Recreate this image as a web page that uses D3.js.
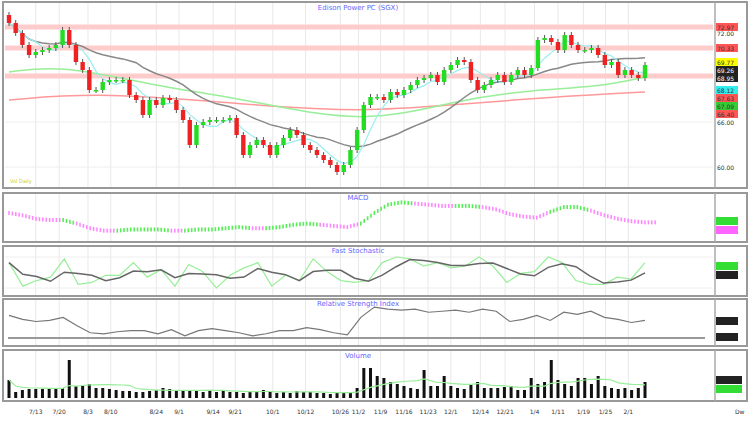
<!DOCTYPE html>
<html><head><meta charset="utf-8">
<script src="https://cdn.jsdelivr.net/npm/d3@7"></script>
<style>body{margin:0;background:#fff}svg{font-family:"DejaVu Sans",sans-serif}</style>
</head><body>
<script>
// daily closes
var closes=[74.4,73.4,72.2,71.2,71.5,71.7,71.9,72.2,73.7,72.2,70.5,69.7,67.7,67.7,68.5,68.7,68.7,68.7,67.2,66.7,
65.2,66.7,66.2,66.9,66.7,65.7,64.7,62.2,64.2,64.5,64.7,64.7,64.7,64.9,63.2,61.2,62.2,62.7,62.2,61.2,
62.2,62.9,63.7,63.2,62.2,61.7,61.2,60.7,60.2,59.5,60.2,61.7,63.7,66.2,67.0,67.0,66.7,67.5,67.2,67.7,
68.2,68.7,68.9,69.2,68.5,69.7,70.2,70.7,70.5,68.7,67.7,68.2,68.7,69.2,68.5,69.2,69.7,69.2,69.9,72.7,
72.9,72.5,71.7,73.2,72.2,71.7,71.7,71.9,71.2,70.2,70.5,69.2,69.7,69.2,68.9,70.2];
var volumes=[18,6,8,9,9,9,9,9,10,38,12,12,14,10,10,9,8,7,7,6,6,7,8,10,9,8,8,7,7,6,8,6,7,6,6,5,6,7,8,6,
5,6,5,7,6,6,5,5,4,5,5,6,10,30,30,22,20,16,14,12,10,9,28,12,12,22,12,10,9,13,16,10,10,10,11,12,8,8,20,14,
16,38,18,14,12,20,20,14,22,12,10,9,10,8,10,16];
var ma50=[[0,69.5],[8,70.2],[21,68.2],[36,66.7],[53,64.2],[67,66.7],[78,67.7],[88,68.0],[95,69.0]];
var ma200=[[0,66.7],[14,67.5],[36,66.2],[53,65.5],[66,66.2],[81,67.0],[95,67.5]];
var macd=[7,5,2,1,1,-2,-6,-8,-8,-7,-7,-7,-8,-8,-7,-7,-6,-5,-6,-6,-5,-3,-2,-3,-4,-5,-2,7,14,16,15,14,13,13,13,12,10,6,4,3,8,12,12,9,5,2,0,-1];
var stochK=[82,6,24,35,94,12,18,41,41,82,35,59,6,76,53,0,41,65,82,6,41,24,94,53,24,18,24,82,100,94,71,82,65,71,100,71,18,47,53,100,82,24,12,12,35,29,82];
var rsi=[62,58,56,57,60,52,45,44,46,47,47,44,48,42,47,49,47,45,42,44,47,47,50,48,45,43,60,70,68,67,68,65,66,67,65,68,66,56,58,62,57,65,63,66,60,58,55,57];
var dateLabels=["7/13","7/20","8/3","8/10","8/24","9/1","9/14","9/21","10/1","10/12","10/26","11/2","11/9","11/16","11/23","12/1","12/14","12/21","1/4","1/11","1/19","1/25","2/1"];
var dateIdx=[4,7.5,11.8,15.2,22,25.4,30.5,33.8,39.4,44.3,49.5,52.2,55.5,59,62.6,66,70.4,74.1,78.5,82,85.8,89.1,92.5];
var rightLabels=[[27,"72.97","#f55"],[33,"72.00",null],[48,"70.33","#f55"],[62,"69.77","#ff0"],[70,"69.26","#222"],[78,"68.95","#222"],[90,"68.12","#3ee"],[98,"67.63","#f55"],[106,"67.09","#3c3"],[114,"66.40","#f55"],[122,"66.00",null],[167,"60.00",null]];

var W=750,H=422,L=6,R=713;
var svg=d3.select("body").append("svg").attr("width",W).attr("height",H);
var N=closes.length;
var x=d3.scaleLinear().domain([0,N-1]).range([9,645]);
var panels=[[2,188],[193,242],[246,296],[299,346],[350,401]];
panels.forEach(function(p){
  svg.append("rect").attr("x",3).attr("y",p[0]).attr("width",744).attr("height",p[1]-p[0]).attr("fill","#fff").attr("stroke","#999").attr("stroke-width",2);
  dateIdx.forEach(function(d){svg.append("line").attr("x1",x(d)).attr("x2",x(d)).attr("y1",p[0]+1).attr("y2",p[1]-1).attr("stroke","#e8e8e8");});
  svg.append("line").attr("x1",715).attr("x2",715).attr("y1",p[0]).attr("y2",p[1]).attr("stroke","#aaa").attr("stroke-width",1.5);
});
function title(t,xx,yy){svg.append("text").attr("x",xx).attr("y",yy).attr("text-anchor","middle").attr("font-size",7).attr("fill","#66f").text(t);}
// main
var y=d3.scaleLinear().domain([58.2,76.7]).range([185,0]);
[27,48,76].forEach(function(v){svg.append("rect").attr("x",5).attr("width",708).attr("y",v-2.5).attr("height",5).attr("fill","#fcc");});
[122,167].forEach(function(v){svg.append("line").attr("x1",5).attr("x2",713).attr("y1",v).attr("y2",v).attr("stroke","#eee");});
title("Edison Power PC  (SGX)",358,10);
function sma(a,n){return a.map(function(v,i){var s=a.slice(Math.max(0,i-n+1),i+1);return d3.mean(s);});}
var line=d3.line().x(function(d,i){return x(i);}).y(function(d){return y(d);});
var kline=d3.line().curve(d3.curveBasis).x(function(d){return x(d[0]);}).y(function(d){return y(d[1]);});
svg.append("path").attr("d",kline(ma200)).attr("fill","none").attr("stroke","#f99").attr("stroke-width",1.5);
svg.append("path").attr("d",kline(ma50)).attr("fill","none").attr("stroke","#9e9").attr("stroke-width",1.5);
svg.append("path").attr("d",line(sma(closes,20))).attr("fill","none").attr("stroke","#888").attr("stroke-width",1.5);
svg.append("path").attr("d",line(sma(closes,5))).attr("fill","none").attr("stroke","#9ee").attr("stroke-width",1.2);
closes.forEach(function(c,i){
  var o=i?closes[i-1]:c+0.8, up=c>=o, top=y(Math.max(o,c)), bot=y(Math.min(o,c));
  svg.append("line").attr("x1",x(i)).attr("x2",x(i)).attr("y1",top-3).attr("y2",bot+3).attr("stroke","#555");
  svg.append("rect").attr("x",x(i)-2.2).attr("width",4.4).attr("y",top).attr("height",Math.max(1.5,bot-top)).attr("fill",up?"#2d2":"#e22");
});
svg.append("text").attr("x",10).attr("y",183).attr("font-size",5).attr("fill","#cc0").text("Vol  Daily");
rightLabels.forEach(function(r){
  if(r[2]){svg.append("rect").attr("x",716).attr("y",r[0]-4).attr("width",22).attr("height",8).attr("fill",r[2]);}
  svg.append("text").attr("x",717).attr("y",r[0]+2.5).attr("font-size",6).attr("fill",r[2]=="#222"?"#fff":"#333").text(r[1]);
});
// MACD
var xs=d3.scaleLinear().domain([0,macd.length-1]).range([9,645]);
var ym=d3.scaleLinear().domain([-10,18]).range([233,200]);
title("MACD",358,200);
macd.forEach(function(v,i){
  var c=(i>0&&v>=macd[i-1])?"#5e5":"#f8f";
  [0,1,2,3].forEach(function(k){var t=k/4,vv=i<macd.length-1?v+(macd[i+1]-v)*t:v;
    svg.append("rect").attr("x",xs(i)+t*(xs(1)-xs(0))-0.8).attr("y",ym(vv)-2).attr("width",1.6).attr("height",4).attr("fill",c);});
});
svg.append("rect").attr("x",716).attr("y",217).attr("width",22).attr("height",8).attr("fill","#3d3");
svg.append("rect").attr("x",716).attr("y",226).attr("width",22).attr("height",8).attr("fill","#f6f");
// Stochastic
var xk=d3.scaleLinear().domain([0,stochK.length-1]).range([9,645]);
var ys=d3.scaleLinear().domain([0,100]).range([288,257]);
title("Fast Stochastic",358,253);
[257,288].forEach(function(v){svg.append("line").attr("x1",5).attr("x2",713).attr("y1",v).attr("y2",v).attr("stroke","#eee");});
var sl=d3.line().x(function(d,i){return xk(i);}).y(function(d){return ys(d);});
svg.append("path").attr("d",sl(stochK)).attr("fill","none").attr("stroke","#9e9").attr("stroke-width",1.2);
svg.append("path").attr("d",sl(sma(stochK,3))).attr("fill","none").attr("stroke","#666").attr("stroke-width",1.5);
svg.append("rect").attr("x",716).attr("y",262).attr("width",22).attr("height",8).attr("fill","#3d3");
svg.append("rect").attr("x",716).attr("y",271).attr("width",22).attr("height",8).attr("fill","#222");
// RSI
var xr=d3.scaleLinear().domain([0,rsi.length-1]).range([9,645]);
var yr=d3.scaleLinear().domain([35,75]).range([343,302]);
title("Relative Strength Index",358,306);
svg.append("line").attr("x1",8).attr("x2",705).attr("y1",yr(40)).attr("y2",yr(40)).attr("stroke","#999").attr("stroke-width",2);
svg.append("path").attr("d",d3.line().x(function(d,i){return xr(i);}).y(function(d){return yr(d);})(rsi)).attr("fill","none").attr("stroke","#777").attr("stroke-width",1.2);
svg.append("rect").attr("x",716).attr("y",317).attr("width",22).attr("height",8).attr("fill","#222");
svg.append("rect").attr("x",716).attr("y",333).attr("width",22).attr("height",8).attr("fill","#222");
// Volume
var yv=d3.scaleLinear().domain([0,40]).range([398,358]);
title("Volume",358,358);
volumes.forEach(function(v,i){svg.append("rect").attr("x",x(i)-1.5).attr("width",3).attr("y",yv(v)).attr("height",yv(0)-yv(v)).attr("fill","#111");});
svg.append("path").attr("d",d3.line().x(function(d,i){return x(i);}).y(function(d){return yv(d);})(sma(volumes,10))).attr("fill","none").attr("stroke","#9e9").attr("stroke-width",1.2);
svg.append("rect").attr("x",716).attr("y",376).attr("width",26).attr("height",8).attr("fill","#222");
svg.append("rect").attr("x",716).attr("y",385).attr("width",26).attr("height",8).attr("fill","#3d3");
// dates
dateLabels.forEach(function(t,i){svg.append("text").attr("x",x(dateIdx[i])).attr("y",414).attr("text-anchor","middle").attr("font-size",6).attr("fill","#333").text(t);});
svg.append("text").attr("x",735).attr("y",414).attr("font-size",6).attr("fill","#333").text("Dw");
</script>
</body></html>
